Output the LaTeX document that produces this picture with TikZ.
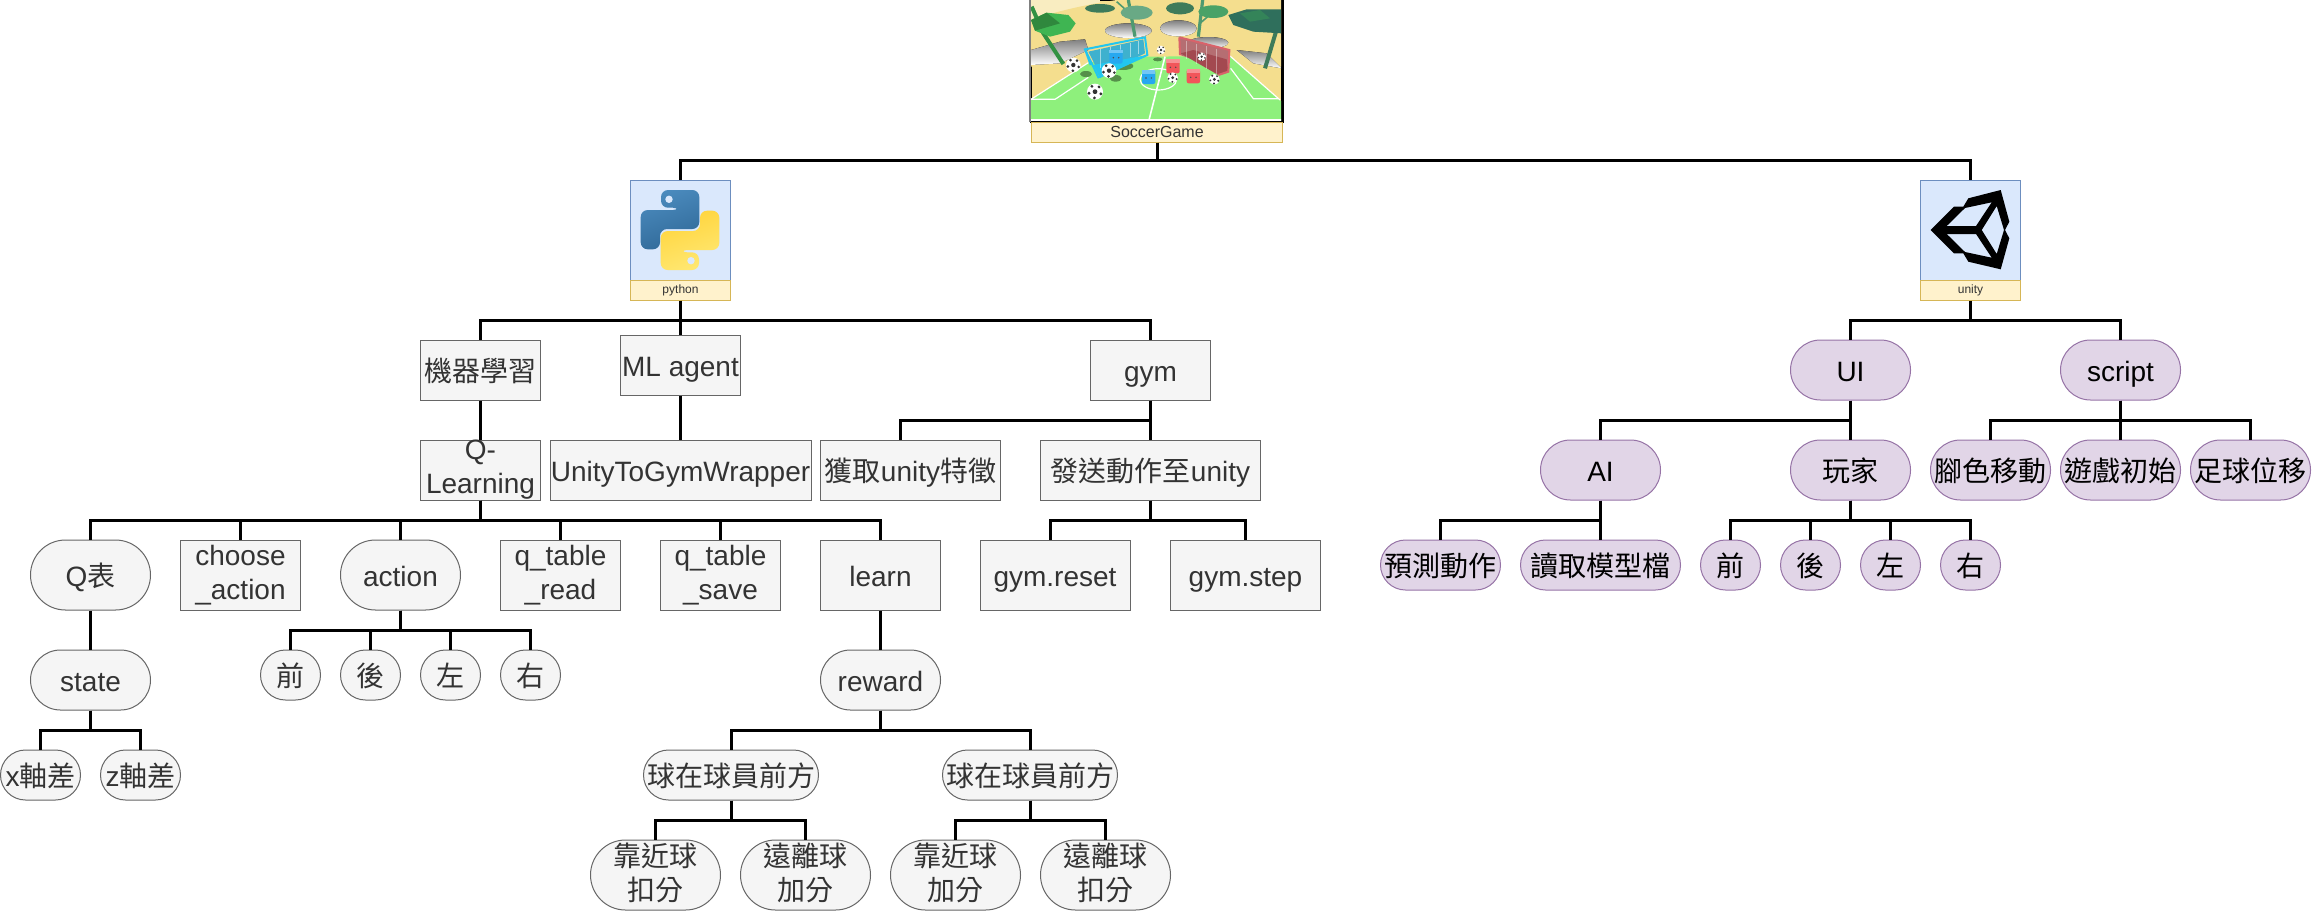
\documentclass[tikz,border=0pt]{standalone}
\usepackage{fontspec}
\setmainfont{Liberation Sans}
\newfontfamily\cjk{Noto Sans CJK TC}
\usetikzlibrary{calc}
\definecolor{boxfill}{HTML}{F5F5F5}
\definecolor{boxline}{HTML}{666666}
\definecolor{boxtext}{HTML}{333333}
\definecolor{purpfill}{HTML}{E1D5E7}
\definecolor{purpline}{HTML}{9673A6}
\definecolor{capfill}{HTML}{FFF2CC}
\definecolor{capline}{HTML}{D6B656}
\definecolor{logofill}{HTML}{DAE8FC}
\definecolor{logoline}{HTML}{6C8EBF}
\definecolor{sand}{HTML}{F4DE8E}
\definecolor{turf}{HTML}{8EF07C}
\definecolor{shade}{HTML}{7F7C5C}
\definecolor{leafa}{HTML}{3FB552}
\definecolor{leafb}{HTML}{4E9A70}
\definecolor{leafc}{HTML}{2F6F5C}
\definecolor{netblue}{HTML}{22C6EF}
\definecolor{netred}{HTML}{D9626A}
\definecolor{cubeblue}{HTML}{27A8F0}
\definecolor{cubered}{HTML}{F2555A}
\definecolor{pyblueA}{HTML}{4B8BBE}
\definecolor{pyblueB}{HTML}{306998}
\definecolor{pyyellowA}{HTML}{FFE873}
\definecolor{pyyellowB}{HTML}{FFD43B}
\newcommand{\zstrut}{\rule[-3pt]{0pt}{17.5pt}}

\begin{document}
\begin{tikzpicture}[
x=0.5pt,y=-0.5pt,
base/.style={
  draw=boxline,
  fill=boxfill,
  text=boxtext,
  line width=.5pt,
  inner sep=-5pt,
  align=center,
  font=\fontsize{14}{17}\selectfont,
  execute at begin node=\zstrut,
  execute at end node=\zstrut
},
squa/.style 2 args={
  base,
  minimum width=#1*0.5pt,
  minimum height=#2*0.5pt
},
pill/.style 2 args={
  squa={#1}{#2},
  rounded corners=#2*0.25pt
},
upill/.style 2 args={
  pill={#1}{#2},
  draw=purpline,
  fill=purpfill,
  text=black
},
logo/.style={
  draw=logoline,
  fill=logofill,
  line width=.5pt,
  minimum width=50pt,
  minimum height=50pt,
  inner sep=0pt
},
cap/.style 2 args={
  draw=capline,
  fill=capfill,
  text=boxtext,
  line width=.5pt,
  inner sep=0pt,
  font=\fontsize{#2}{#2}\selectfont,
  minimum width=#1*0.5pt,
  minimum height=10pt
},
conn/.style={
  draw=black,
  line width=1.5pt
},
elbow/.style={
  to path={(\tikztostart) -- ++(0,#1) -| (\tikztotarget)}
},
elbow/.default=20,
pyhalf/.pic={
  \path[pic actions,rounded corners=3.5pt]
    (-19,-22.3) -- (-19,-40) -- (19.3,-40) -- (19.3,-1) -- (-20,-1) -- (-20,19.3)
    -- (-39.3,19.3) -- (-39.3,-20) -- (0,-20) -- (0,-22.3) -- cycle;
  \fill[logofill] (-11,-30.7) circle (3.7);
}
]
\useasboundingbox (0,0) rectangle (2312,911);

\node[draw=black,fill=sand,line width=1pt,minimum width=125.5pt,minimum height=60.5pt,inner sep=0pt] (game) at (1156.5,60.5) {};
\begin{scope}[shift={(960,0)},x=0.16667pt,y=-0.16667pt]
\clip (213,1) rectangle (963,363);
\fill[sand!55!white] (213,0) rectangle (420,60);
\fill[sand] (213,60) .. controls (300,30) and (400,10) .. (470,0) -- (965,0) -- (965,200) -- (213,200) -- cycle;
\fill[shade] (213,150) -- (300,125) -- (375,118) -- (385,150) -- (300,190) -- (213,195) -- cycle;
\fill[shade] (505,92) ellipse (70 and 22);
\fill[shade] (655,85) ellipse (55 and 24);
\fill[shade] (745,128) ellipse (60 and 17);
\fill[shade] (830,150) -- (920,160) -- (965,205) -- (880,190) -- cycle;
\fill[turf] (213,298) -- (385,188) -- (560,170) -- (810,168) -- (965,305) -- (965,365) -- (213,365) -- cycle;
\draw[white,line width=.6pt] (213,298) -- (385,188) (810,168) -- (960,300);
\draw[white,line width=.6pt] (213,298) -- (285,298) -- (385,232);
\draw[white,line width=.6pt] (955,296) -- (880,296) -- (812,205);
\draw[white,line width=.8pt] (615,170) -- (567,360);
\draw[white,line width=.6pt] (595,238) ellipse (55 and 32);
\draw[white,line width=1pt] (213,360) -- (965,360);
\draw[leafa!80!black,line width=2pt] (215,20) -- (250,100) -- (310,192);
\fill[leafa] (213,60) -- (260,38) -- (325,45) -- (347,70) -- (330,95) -- (270,110) -- (225,92) -- cycle;
\fill[leafa!75!black] (213,60) -- (260,38) -- (300,70) -- (225,92) -- cycle;
\draw[leafb,line width=1.6pt] (505,0) -- (525,110);
\draw[leafb,line width=1.6pt] (728,0) -- (715,110);
\draw[leafb,line width=.8pt] (470,5) -- (515,45) (760,35) -- (720,70);
\fill[leafb!80!black] (420,25) ellipse (45 and 13);
\fill[leafb!85!white] (530,38) ellipse (48 and 21);
\fill[leafb!80!black] (660,25) ellipse (42 and 18);
\fill[leafb!70!leafa] (760,35) ellipse (45 and 19);
\draw[leafb!80!black,line width=2pt] (950,88) -- (915,205);
\fill[leafc] (805,45) -- (860,28) -- (965,28) -- (965,100) -- (880,95) -- (820,75) -- cycle;
\fill[leafc!70!leafa] (840,40) -- (900,30) -- (930,55) -- (870,65) -- cycle;
\fill[turf!60!black] (378,222) ellipse (18 and 9) (467,235) ellipse (18 and 10) (593,178) ellipse (14 and 6) (490,198) ellipse (30 and 12);
\fill[netblue!70!gray] (385,155) -- (550,118) -- (555,160) -- (420,225) -- cycle;
\fill[netblue] (400,195) -- (562,165) -- (420,234) -- cycle;
\draw[netblue,line width=1pt] (375,148) -- (555,112) -- (562,165) -- (415,232) -- cycle (375,148) -- (392,195);
\foreach \n in {420,450,480,510,535} \draw[white,opacity=.5,line width=.3pt] (\n,{150-(\n-400)*.2}) -- (\n,{210-(\n-400)*.35});
\fill[netred!60!gray] (658,112) -- (808,150) -- (805,215) -- (660,165) -- cycle;
\fill[netred!75!black] (662,160) -- (775,225) -- (805,215) -- (800,178) -- (700,150) -- cycle;
\draw[netred,line width=1pt] (658,112) -- (808,150) -- (805,215) -- (775,225) (658,112) -- (660,165);
\foreach \n in {680,710,740,770} \draw[white,opacity=.4,line width=.3pt] (\n,{118+(\n-658)*.25}) -- (\n,{168+(\n-660)*.5});
\foreach \cx/\cy/\cc in {468/170/cubeblue,566/231/cubeblue,639/199/cubered,700/229/cubered}{
  \fill[\cc,rounded corners=1pt] (\cx-20,\cy-21) rectangle (\cx+20,\cy+21);
  \fill[\cc!65!white] (\cx-20,\cy-21) rectangle (\cx+20,\cy-10);
  \fill[black!70] (\cx-8,\cy+3) circle (2.5) (\cx+8,\cy+3) circle (2.5);
}
\foreach \bx/\by/\br in {340/195/22,447/212/22,405/275/24,603/150/13,638/233/16,725/170/13,763/238/16}{
  \fill[white] (\bx,\by) circle (\br);
  \fill[black!80] (\bx,\by) circle (\br*.3);
  \foreach \a in {20,95,165,240,310}
    \fill[black!80] ($(\bx,\by)+(\a:\br*.78)$) circle (\br*.2);
}
\end{scope}
\draw[black,line width=1pt] (game.north east) -- (game.south east) -- (game.south west);
\draw[gray,line width=.7pt] (game.south west) -- (game.north west) -- (game.north east);
\node[cap={251}{8}] (gamecap) at (1157,132) {SoccerGame};

\node[logo] (python) at (680.5,230.3) {};
\node[cap={100}{6}] (pythoncap) at (680.5,290.3) {python};
\pic[left color=pyblueA,right color=pyblueB,shading angle=20] at (680,230) {pyhalf};
\pic[rotate=180,left color=pyyellowB,right color=pyyellowA,shading angle=20] at (680,230) {pyhalf};

\node[logo] (unity) at (1970.5,230.3) {};
\node[cap={100}{6}] (unitycap) at (1970.5,290.3) {unity};
\fill[black,even odd rule,shift={(1970,230)}]
  (-39.3,0) -- (-16,-23.3) -- (-6.7,-23.3) -- (-1.7,-31.7) -- (30.7,-40) -- (39.3,-8.3) -- (35,0)
  -- (39.3,8.3) -- (30.7,39.3) -- (-1.7,31.7) -- (-6.7,23.3) -- (-16,23.3) -- cycle
  (-23.3,-4) -- (-5,-22) -- (21.7,-27.7) -- (6,-4) -- cycle
  (-23.3,4) -- (6,4) -- (21.7,27.7) -- (-5,22) -- cycle
  (26.7,-24) -- (11.7,0) -- (26.7,24) -- (34,0) -- cycle;

\node[squa={120}{60}] (mlearn) at (480.5,370) {{\cjk 機器學習}};
\node[squa={120}{60}] (mlagent) at (680.5,365) {ML agent};
\node[squa={120}{60}] (gym) at (1150.5,370) {gym};
\node[squa={120}{60}] (qlearn) at (480.5,470) {Q-\\Learning};
\node[squa={261}{60}] (wrapper) at (680.5,470) {UnityToGymWrapper};
\node[squa={180}{60}] (obtain) at (910.5,470) {{\cjk 獲取}unity{\cjk 特徵}};
\node[squa={220}{60}] (sendact) at (1150.5,470) {{\cjk 發送動作至}unity};

\node[pill={120}{70}] (qtable) at (90.5,575) {Q{\cjk 表}};
\node[squa={120}{70}] (chooseact) at (240.5,575) {choose\\\_action};
\node[pill={120}{70}] (action) at (400.5,575) {action};
\node[squa={120}{70}] (qread) at (560.5,575) {q\_table\\\_read};
\node[squa={120}{70}] (qsave) at (720.5,575) {q\_table\\\_save};
\node[squa={120}{70}] (learn) at (880.5,575) {learn};
\node[squa={150}{70}] (gymreset) at (1055,575) {gym.reset};
\node[squa={150}{70}] (gymstep) at (1245.5,575) {gym.step};

\node[pill={120}{60}] (state) at (90.5,680) {state};
\node[pill={80}{50}] (xdiff) at (40.5,775) {x{\cjk 軸差}};
\node[pill={80}{50}] (zdiff) at (140.5,775) {z{\cjk 軸差}};
\node[pill={60}{50}] (front) at (290.5,675) {{\cjk 前}};
\node[pill={60}{50}] (back) at (370.5,675) {{\cjk 後}};
\node[pill={60}{50}] (left) at (450.5,675) {{\cjk 左}};
\node[pill={60}{50}] (right) at (530.5,675) {{\cjk 右}};

\node[pill={120}{60}] (reward) at (880.5,680) {reward};
\node[pill={175}{50}] (ballfronta) at (731,775) {{\cjk 球在球員前方}};
\node[pill={175}{50}] (ballfrontb) at (1030,775) {{\cjk 球在球員前方}};
\node[pill={130}{70}] (neara) at (655.5,875) {{\cjk 靠近球}\\{\cjk 扣分}};
\node[pill={130}{70}] (fara) at (805.5,875) {{\cjk 遠離球}\\{\cjk 加分}};
\node[pill={130}{70}] (nearb) at (955.5,875) {{\cjk 靠近球}\\{\cjk 加分}};
\node[pill={130}{70}] (farb) at (1105.5,875) {{\cjk 遠離球}\\{\cjk 扣分}};

\node[upill={120}{60}] (ui) at (1850.5,370) {UI};
\node[upill={120}{60}] (script) at (2120.5,370) {script};
\node[upill={120}{60}] (ai) at (1600.5,470) {AI};
\node[upill={120}{60}] (player) at (1850.5,470) {{\cjk 玩家}};
\node[upill={120}{60}] (movechar) at (1990.5,470) {{\cjk 腳色移動}};
\node[upill={120}{60}] (gameinit) at (2120.5,470) {{\cjk 遊戲初始}};
\node[upill={120}{60}] (ballmove) at (2250.5,470) {{\cjk 足球位移}};
\node[upill={120}{50}] (predict) at (1440.5,565) {{\cjk 預測動作}};
\node[upill={160}{50}] (readmodel) at (1600.5,565) {{\cjk 讀取模型檔}};
\node[upill={60}{50}] (ufront) at (1730.5,565) {{\cjk 前}};
\node[upill={60}{50}] (uback) at (1810.5,565) {{\cjk 後}};
\node[upill={60}{50}] (uleft) at (1890.5,565) {{\cjk 左}};
\node[upill={60}{50}] (uright) at (1970.5,565) {{\cjk 右}};

\foreach \kid in {python,unity}
  \draw[conn] (gamecap.south) to[elbow=18] (\kid.north);
\foreach \kid in {mlearn,mlagent,gym}
  \draw[conn] (pythoncap.south) to[elbow] (\kid.north);
\draw[conn] (mlearn.south) -- (qlearn.north);
\draw[conn] (mlagent.south) -- (wrapper.north);
\draw[conn] (gym.south) to[elbow] ([xshift=-5pt]obtain.north);
\draw[conn] (gym.south) -- (sendact.north);
\draw[conn] (sendact.south) to[elbow] ([xshift=-2.5pt]gymreset.north);
\draw[conn] (sendact.south) to[elbow] (gymstep.north);
\foreach \kid in {qtable,chooseact,action,qread,qsave,learn}
  \draw[conn] (qlearn.south) to[elbow] (\kid.north);
\draw[conn] (qtable.south) -- (state.north);
\foreach \kid in {xdiff,zdiff}
  \draw[conn] (state.south) to[elbow] (\kid.north);
\foreach \kid in {front,back,left,right}
  \draw[conn] (action.south) to[elbow] (\kid.north);
\draw[conn] (learn.south) -- (reward.north);
\foreach \kid in {ballfronta,ballfrontb}
  \draw[conn] (reward.south) to[elbow] (\kid.north);
\foreach \kid in {neara,fara}
  \draw[conn] (ballfronta.south) to[elbow] (\kid.north);
\foreach \kid in {nearb,farb}
  \draw[conn] (ballfrontb.south) to[elbow] (\kid.north);
\foreach \kid in {ui,script}
  \draw[conn] (unitycap.south) to[elbow] (\kid.north);
\foreach \kid in {ai,player}
  \draw[conn] (ui.south) to[elbow] (\kid.north);
\foreach \kid in {movechar,gameinit,ballmove}
  \draw[conn] (script.south) to[elbow] (\kid.north);
\foreach \kid in {predict,readmodel}
  \draw[conn] (ai.south) to[elbow] (\kid.north);
\foreach \kid in {ufront,uback,uleft,uright}
  \draw[conn] (player.south) to[elbow] (\kid.north);
\end{tikzpicture}
\end{document}
